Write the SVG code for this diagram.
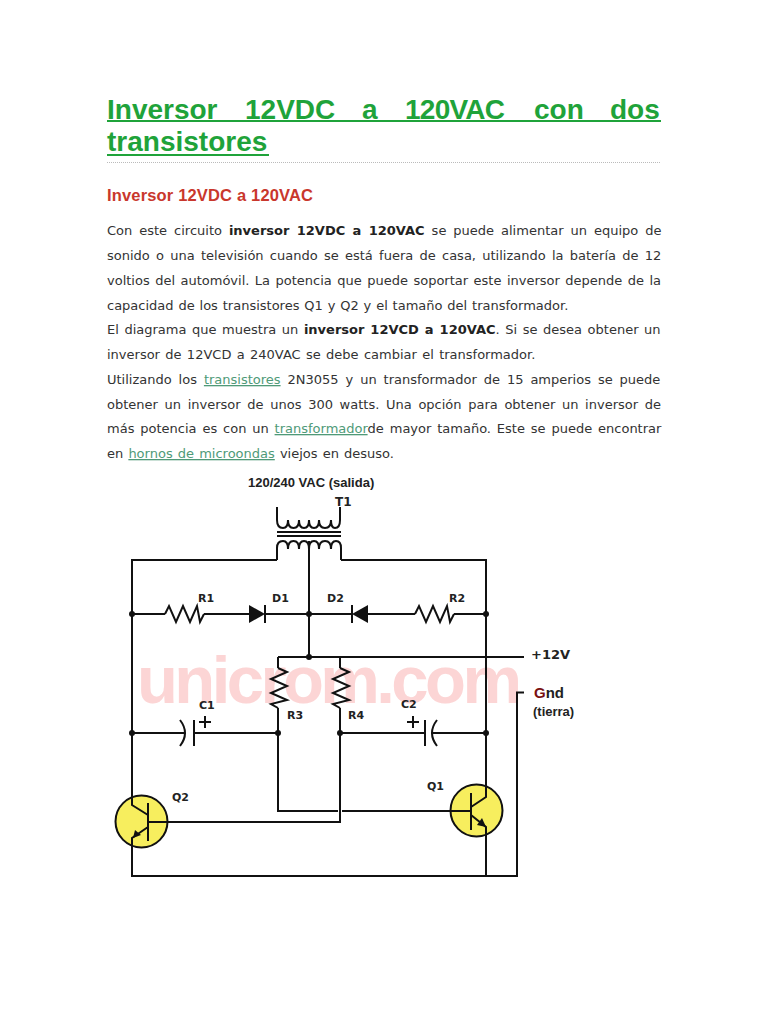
<svg xmlns="http://www.w3.org/2000/svg" width="768" height="1024" viewBox="0 0 768 1024">
<style>
.b{font-family:"DejaVu Sans",sans-serif;font-size:13px;fill:#333}
.bb{font-weight:bold;fill:#222}
.l{fill:#4f9a78;text-decoration:underline}
.h{font-family:"Liberation Sans",Arial,sans-serif;font-weight:bold;font-size:28px;fill:#1fa33a}
.w{fill:none;stroke:#111;stroke-width:2}
.lab{font-family:"DejaVu Sans",sans-serif;font-weight:bold;font-size:11px;fill:#222}
.dot{fill:#111}
</style>
<rect width="768" height="1024" fill="#fff"/>
<g id="article">
<text class="h" x="107" y="118.500">Inversor</text>
<text class="h" x="245" y="118.500">12VDC</text>
<text class="h" x="362" y="118.500">a</text>
<text class="h" x="405" y="118.500" textLength="100">120VAC</text>
<text class="h" x="534" y="118.500">con</text>
<text class="h" x="610" y="118.500">dos</text>
<line x1="107" y1="121" x2="661" y2="121" stroke="#1fa33a" stroke-width="2"/>
<text class="h" x="107" y="151">transistores</text>
<line x1="107" y1="155" x2="269" y2="155" stroke="#1fa33a" stroke-width="2"/>
<line x1="107" y1="162.500" x2="661" y2="162.500" stroke="#bbb" stroke-dasharray="1 1"/>
<text x="107" y="201" font-family="Liberation Sans,Arial,sans-serif" font-weight="bold" font-size="16.500" fill="#c9372c" textLength="206">Inversor 12VDC a 120VAC</text>
<text class="b" x="107" y="235" word-spacing="2.830">Con este circuito <tspan class="bb">inversor 12VDC a 120VAC</tspan> se puede alimentar un equipo de</text>
<text class="b" x="107" y="260" word-spacing="2.140">sonido o una televisión cuando se está fuera de casa, utilizando la batería de 12</text>
<text class="b" x="107" y="285" word-spacing="1.330">voltios del automóvil. La potencia que puede soportar este inversor depende de la</text>
<text class="b" x="107" y="310" word-spacing="0.730">capacidad de los transistores Q1 y Q2 y el tamaño del transformador.</text>
<text class="b" x="107" y="334" word-spacing="1.460">El diagrama que muestra un <tspan class="bb">inversor 12VCD a 120VAC</tspan>. Si se desea obtener un</text>
<text class="b" x="107" y="359" word-spacing="1.200">inversor de 12VCD a 240VAC se debe cambiar el transformador.</text>
<text class="b" x="107" y="384" word-spacing="2.800">Utilizando los <tspan class="l">transistores</tspan> 2N3055 y un transformador de 15 amperios se puede</text>
<text class="b" x="107" y="409" word-spacing="2.540">obtener un inversor de unos 300 watts. Una opción para obtener un inversor de</text>
<text class="b" x="107" y="433" word-spacing="1.730">más potencia es con un <tspan class="l">transformador</tspan>de mayor tamaño. Este se puede encontrar</text>
<text class="b" x="107" y="458" word-spacing="1">en <tspan class="l">hornos de microondas</tspan> viejos en desuso.</text>
</g>
<text id="watermark" x="137" y="703" font-family="Liberation Sans,Arial,sans-serif" font-weight="bold" font-size="67" fill="#fcd5d5" textLength="385">unicrom.com</text>
<g id="connectors" class="w">
<path d="M277 560H132V876H517V692.500H524"/>
<path d="M341 560H486V876"/>
<path d="M309 541V657"/>
<path d="M132 614H165M204 614H249M265 614H352M368 614H415M454 614H486"/>
<path d="M278 657H524"/>
<path d="M278 657V668M278 708V811H338M340 657V668M340 708V822H168"/>
<path d="M132 733H184M194 733H278M340 733H425M433 733H486"/>
<path d="M342 811H450"/>
</g>
<g id="T1" class="w">
<path d="M277 507V520Q277 528 283 528Q288 528 288 520Q288 528 293.500 528Q299 528 299 520Q299 528 304 528Q309 528 309 520Q309 528 314 528Q319 528 319 520Q319 528 325 528Q331 528 331 520Q331 528 335 528Q340 528 340 520V507"/>
<path d="M277 532H341M277 536H341"/>
<path d="M277 560V548Q277 541 283 541Q288 541 288 549Q288 541 293.500 541Q299 541 299 549Q299 541 304 541Q309 541 309 549Q309 541 314 541Q319 541 319 549Q319 541 325 541Q331 541 331 549Q331 541 336 541Q341 541 341 548V560"/>
</g>
<g id="R1"><path class="w" d="M165 614L169 606L176 622L183 606L190 622L197 606L200 622L204 614"/></g>
<g id="R2"><path class="w" d="M415 614L419 606L426 622L433 606L440 622L447 606L450 622L454 614"/></g>
<g id="R3"><path class="w" d="M278 668L287 672L271 679L287 686L271 693L287 700L271 704L278 708"/></g>
<g id="R4"><path class="w" d="M340 668L349 672L333 679L349 686L333 693L349 700L333 704L340 708"/></g>
<g id="D1"><path fill="#111" d="M249 605V623L265 614Z"/><path class="w" d="M265 605V623"/></g>
<g id="D2"><path fill="#111" d="M368 605V623L352 614Z"/><path class="w" d="M352 605V623"/></g>
<g id="C1" class="w"><path d="M180 720Q190 733 180 746M194 720V746M199 722H211M205 716V728"/></g>
<g id="C2" class="w"><path d="M437 720Q427 733 437 746M425 720V746M407 722H419M413 716V728"/></g>
<g id="Q2">
<circle cx="141.500" cy="821.500" r="26" fill="#f7ee5e" stroke="#111" stroke-width="2"/>
<path class="w" d="M132 797V805L148 815M148 803V841M148 822H168M148 827L132 838V847"/>
<path fill="#111" d="M133 838L135 830L141 835Z"/>
</g>
<g id="Q1">
<circle cx="476.500" cy="810.500" r="26" fill="#f7ee5e" stroke="#111" stroke-width="2"/>
<path class="w" d="M471 793V830M450 811H471M486 785V797L471 807M471 815L486 827V837"/>
<path fill="#111" d="M486 827L477 825L482 818Z"/>
</g>
<g id="dots">
<circle class="dot" cx="132" cy="614" r="3"/><circle class="dot" cx="309" cy="614" r="3"/><circle class="dot" cx="486" cy="614" r="3"/><circle class="dot" cx="309" cy="657" r="3"/><circle class="dot" cx="132" cy="733" r="3"/><circle class="dot" cx="278" cy="733" r="3"/><circle class="dot" cx="340" cy="733" r="3"/><circle class="dot" cx="486" cy="733" r="3"/>
</g>
<g id="labels">
<text x="248" y="487" font-family="Liberation Sans,Arial,sans-serif" font-weight="bold" font-size="13" fill="#222">120/240 VAC (salida)</text>
<text class="lab" x="335" y="506" style="font-size:12px">T1</text><text class="lab" x="198" y="602">R1</text><text class="lab" x="272" y="602">D1</text><text class="lab" x="327" y="602">D2</text><text class="lab" x="449" y="602">R2</text>
<text class="lab" x="287" y="719">R3</text><text class="lab" x="348" y="719">R4</text><text class="lab" x="199" y="709">C1</text><text class="lab" x="401" y="708">C2</text><text class="lab" x="172" y="801">Q2</text><text class="lab" x="427" y="790">Q1</text>
<text x="531" y="659" font-family="DejaVu Sans,sans-serif" font-weight="bold" font-size="13" fill="#222">+12V</text>
<text x="534" y="698" font-family="Liberation Sans,Arial,sans-serif" font-weight="bold" font-size="15" fill="#222"><tspan fill="#7a1010">G</tspan>nd</text>
<text x="533" y="716" font-family="Liberation Sans,Arial,sans-serif" font-weight="bold" font-size="13" fill="#222">(tierra)</text>
</g>
</svg>
